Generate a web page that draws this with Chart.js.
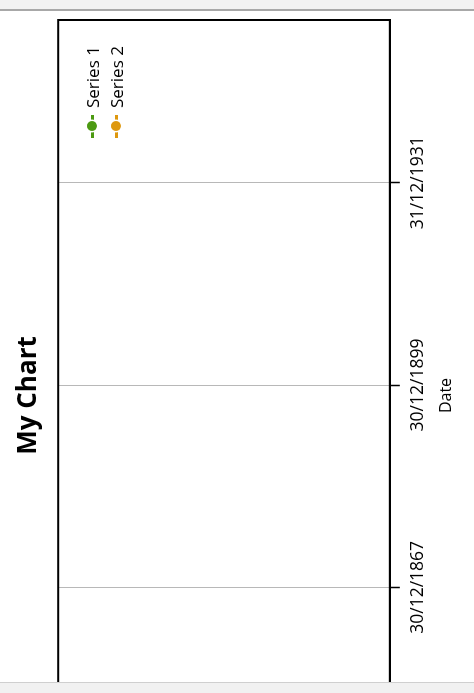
<!DOCTYPE html>
<html>
<head>
<meta charset="utf-8">
<title>My Chart</title>
<script src="https://cdn.jsdelivr.net/npm/chart.js@4.4.1/dist/chart.umd.min.js"></script>
<style>
  body { margin: 0; background: #fff; overflow: hidden; font-family: 'Open Sans', sans-serif; }
  #barraArriba { position: absolute; left: 0; top: 0; width: 474px; height: 9px; background: #f2f2f2; border-bottom: 2px solid #a8a8a8; z-index: 2; }
  #barraAbajo { position: absolute; left: 0; top: 682px; width: 474px; height: 11px; background: #f1f1f1; border-top: 1px solid #cfcfcf; z-index: 2; }
  /* el grafico se dibuja acostado y se gira 90 grados */
  #envoltura { position: absolute; left: 0; top: 0; width: 771px; height: 474px; transform-origin: 0 0; transform: translate(0, 781px) rotate(-90deg); }
  #leyenda { position: absolute; left: 643px; top: 80px; font-size: 17px; color: #000; }
  .item { display: flex; align-items: center; height: 24px; white-space: nowrap; }
  .marca { position: relative; width: 23px; height: 24px; margin-right: 7px; }
  .marca .linea { position: absolute; left: 0; top: 10.5px; width: 23px; height: 3px; }
  .marca .punto { position: absolute; left: 6.5px; top: 7px; width: 10px; height: 10px; border-radius: 50%; box-shadow: 0 0 0 1.5px #fff; }
</style>
</head>
<body>
<div id="envoltura">
  <canvas id="grafica" width="771" height="474"></canvas>
  <div id="leyenda"></div>
</div>
<div id="barraArriba"></div>
<div id="barraAbajo"></div>
<script>
// datos de la grafica (las series vienen vacias)
const seriesNames = ['Series 1', 'Series 2'];
const seriesColors = ['#4c9a12', '#de980e'];
const series1 = [];
const series2 = [];

// eje de fechas en dias (serial de excel, 0 = 30/12/1899)
const tickValues = [-11688, 0, 11689];
const tickLabels = ['30/12/1867', '30/12/1899', '31/12/1931'];
const xMin = -22300;
const xMax = 21090;

Chart.defaults.font.family = "'Open Sans', sans-serif";
Chart.defaults.color = '#000';

// para dibujar el marco negro alrededor del area
const marco = {
    id: 'marco',
    afterDraw(chart) {
        const a = chart.chartArea;
        const c = chart.ctx;
        c.save();
        c.strokeStyle = '#000';
        c.lineWidth = 2;
        c.strokeRect(a.left, a.top, a.right - a.left, a.bottom - a.top);
        c.restore();
    }
};

const datos = [series1, series2];
const datasetsArr = datos.map((serie, i) => ({
    label: seriesNames[i],
    data: serie,
    borderColor: seriesColors[i],
    backgroundColor: seriesColors[i],
    pointRadius: 4,
    borderWidth: 2
}));

new Chart(document.getElementById('grafica'), {
    type: 'line',
    data: { datasets: datasetsArr },
    options: {
        responsive: false,
        animation: false,
        layout: { padding: { left: 10, right: 10, top: 0, bottom: 14 } },
        plugins: {
            legend: { display: false },
            tooltip: { enabled: false },
            title: {
                display: true,
                text: 'My Chart',
                color: '#000',
                font: { size: 26, weight: 'bold' },
                padding: { top: 13, bottom: 14 }
            }
        },
        scales: {
            x: {
                type: 'linear',
                position: 'bottom',
                min: xMin,
                max: xMax,
                afterBuildTicks: scale => {
                    scale.ticks = tickValues.map(v => ({ value: v }));
                },
                ticks: {
                    callback: v => tickLabels[tickValues.indexOf(v)],
                    color: '#000',
                    font: { size: 17.5, lineHeight: 0.97 },
                    padding: 10,
                    maxRotation: 0,
                    autoSkip: false
                },
                grid: { color: '#b8b8b8', lineWidth: 1, tickLength: 10, tickColor: '#000', tickWidth: 1.5 },
                border: { color: '#000', width: 2 },
                title: { display: true, text: 'Date', color: '#000', font: { size: 16 }, padding: { top: 0, bottom: 4 } }
            },
            y: { display: false, min: 0, max: 1 }
        }
    },
    plugins: [marco]
});

// leyenda en html (texto real)
const leyenda = document.getElementById('leyenda');
seriesNames.forEach((nombre, i) => {
    const item = document.createElement('div');
    item.className = 'item';
    item.innerHTML = '<span class="marca"><span class="linea" style="background:' + seriesColors[i] + '"></span>' +
        '<span class="punto" style="background:' + seriesColors[i] + '"></span></span><span>' + nombre + '</span>';
    leyenda.appendChild(item);
});
</script>
</body>
</html>
